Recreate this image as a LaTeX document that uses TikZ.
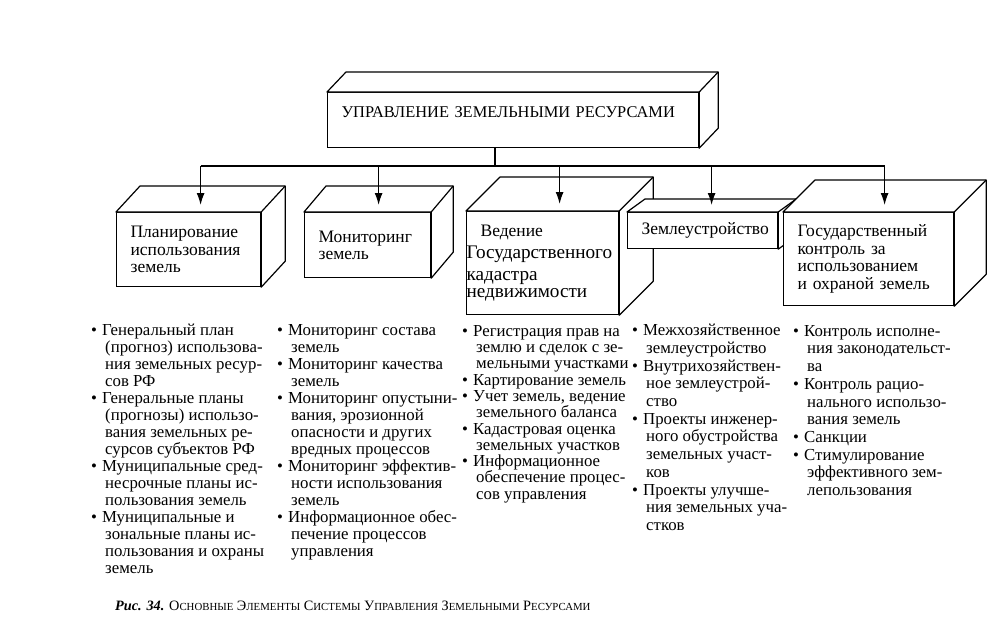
\documentclass[tikz,border=0pt]{standalone}
\usepackage{fontspec}
\setmainfont{Liberation Serif}
\usetikzlibrary{arrows.meta,calc}
\newcommand{\pnt}{\makebox[11pt][l]{\textbullet}}
\newcommand{\ind}{\hspace*{14pt}}
\newcommand{\kap}[2]{{\fontsize{14.3}{14}\selectfont #1}{\fontsize{10.8}{14}\selectfont #2}}
% top and side faces of a box whose front is the node #1
\newcommand{\blok}[3]{%
  \draw[line width=1.2pt, fill=white, line join=round] (#1.north west) -- ++(#2,#3) -- ($(#1.north east)+(#2,#3)$) -- ($(#1.south east)+(#2,#3)$) -- (#1.south east) -- (#1.north east) -- cycle;
  \draw[line width=1.2pt] (#1.north east) -- ++(#2,#3);
  \coordinate (#1-in) at ($(#1.north)+(#2/2,-7)$);
}

\begin{document}
\begin{tikzpicture}[x=1pt, y=-1pt,
    face/.style={draw, line width=1.2pt, fill=white, anchor=north west, align=left,
      inner xsep=14pt, inner ysep=0pt, font=\fontsize{17.5}{17.5}\selectfont},
    spisok/.style={anchor=north west, align=left, inner sep=0pt,
      font=\fontsize{16.8}{17}\selectfont}]
				\useasboundingbox (0,0) rectangle (1002,622);

				% main box
				\node[face, minimum width=371pt, minimum height=55pt, text width=343pt, text depth=16pt,
				  font=\fontsize{16.4}{17}\selectfont] (upr) at (327,92) {УПРАВЛЕНИЕ ЗЕМЕЛЬНЫМИ РЕСУРСАМИ};
				\blok{upr}{19}{-20}

				% element boxes
				\node[face, minimum width=144pt, minimum height=74pt, text width=116pt] (plan) at (116,212)
				  {Планирование\\использования\\земель};
				\blok{plan}{24}{-26}
				\node[face, minimum width=126pt, minimum height=65pt, text width=98pt] (mon) at (304,212)
				  {Мониторинг\\земель};
				\blok{mon}{22}{-26}
				\node[face, minimum width=152pt, minimum height=103pt, text width=152pt, inner xsep=0pt] (ved) at (466,211)
				  {\hspace*{14pt}Ведение\\[1pt]{\fontsize{19.2}{21.5}\selectfont Государственного\\кадастра\\недвижимости}};
				\blok{ved}{34}{-34}
				\node[face, minimum width=150pt, minimum height=36pt, text width=122pt] (zem) at (627,212)
				  {Землеустройство};
				\blok{zem}{18}{-13}
				\node[face, minimum width=170pt, minimum height=93pt, text width=142pt] (kon) at (783,212)
				  {Государственный\\контроль за\\использованием\\и охраной земель};
				\blok{kon}{32}{-32}

				% connectors
				\coordinate (bus) at (495,166);
				\draw[line width=1.5pt] (upr.south -| bus) -- (bus);
				\draw[line width=1.5pt] (plan-in |- bus) -- (kon-in |- bus);
				\foreach \b in {plan, mon, ved, zem, kon}
					\draw[-{Latex[length=12pt, width=8pt]}, line width=1.3pt] (\b-in |- bus) -- (\b-in);

				% lists
				\node[spisok] (l1) at (91,324) {%
				  \pnt Генеральный план\\
				  \ind (прогноз) использова-\\
				  \ind ния земельных ресур-\\
				  \ind сов РФ\\
				  \pnt Генеральные планы\\
				  \ind (прогнозы) использо-\\
				  \ind вания земельных ре-\\
				  \ind сурсов субъектов РФ\\
				  \pnt Муниципальные сред-\\
				  \ind несрочные планы ис-\\
				  \ind пользования земель\\
				  \pnt Муниципальные и\\
				  \ind зональные планы ис-\\
				  \ind пользования и охраны\\
				  \ind земель};
				\node[spisok] (l2) at (277,324) {%
				  \pnt Мониторинг состава\\
				  \ind земель\\
				  \pnt Мониторинг качества\\
				  \ind земель\\
				  \pnt Мониторинг опустыни-\\
				  \ind вания, эрозионной\\
				  \ind опасности и других\\
				  \ind вредных процессов\\
				  \pnt Мониторинг эффектив-\\
				  \ind ности использования\\
				  \ind земель\\
				  \pnt Информационное обес-\\
				  \ind печение процессов\\
				  \ind управления};
				\node[spisok, font=\fontsize{16.8}{16.3}\selectfont] (l3) at (462,325) {%
				  \pnt Регистрация прав на\\
				  \ind землю и сделок с зе-\\
				  \ind мельными участками\\
				  \pnt Картирование земель\\
				  \pnt Учет земель, ведение\\
				  \ind земельного баланса\\
				  \pnt Кадастровая оценка\\
				  \ind земельных участков\\
				  \pnt Информационное\\
				  \ind обеспечение процес-\\
				  \ind сов управления};
				\node[spisok, font=\fontsize{16.8}{17.7}\selectfont] (l4) at (632,324) {%
				  \pnt Межхозяйственное\\
				  \ind землеустройство\\
				  \pnt Внутрихозяйствен-\\
				  \ind ное землеустрой-\\
				  \ind ство\\
				  \pnt Проекты инженер-\\
				  \ind ного обустройства\\
				  \ind земельных участ-\\
				  \ind ков\\
				  \pnt Проекты улучше-\\
				  \ind ния земельных уча-\\
				  \ind стков};
				\node[spisok, font=\fontsize{16.8}{17.7}\selectfont] (l5) at (793,325) {%
				  \pnt Контроль исполне-\\
				  \ind ния законодательст-\\
				  \ind ва\\
				  \pnt Контроль рацио-\\
				  \ind нального использо-\\
				  \ind вания земель\\
				  \pnt Санкции\\
				  \pnt Стимулирование\\
				  \ind эффективного зем-\\
				  \ind лепользования};

				% caption
				\node[anchor=west, inner sep=0pt] (cap) at (115,606)
				  {\fontsize{14.3}{16}\selectfont\textbf{\textit{Рис. 34.}} \kap{О}{СНОВНЫЕ} \kap{Э}{ЛЕМЕНТЫ} \kap{С}{ИСТЕМЫ} \kap{У}{ПРАВЛЕНИЯ} \kap{З}{ЕМЕЛЬНЫМИ} \kap{Р}{ЕСУРСАМИ}};
			\end{tikzpicture}
\end{document}
